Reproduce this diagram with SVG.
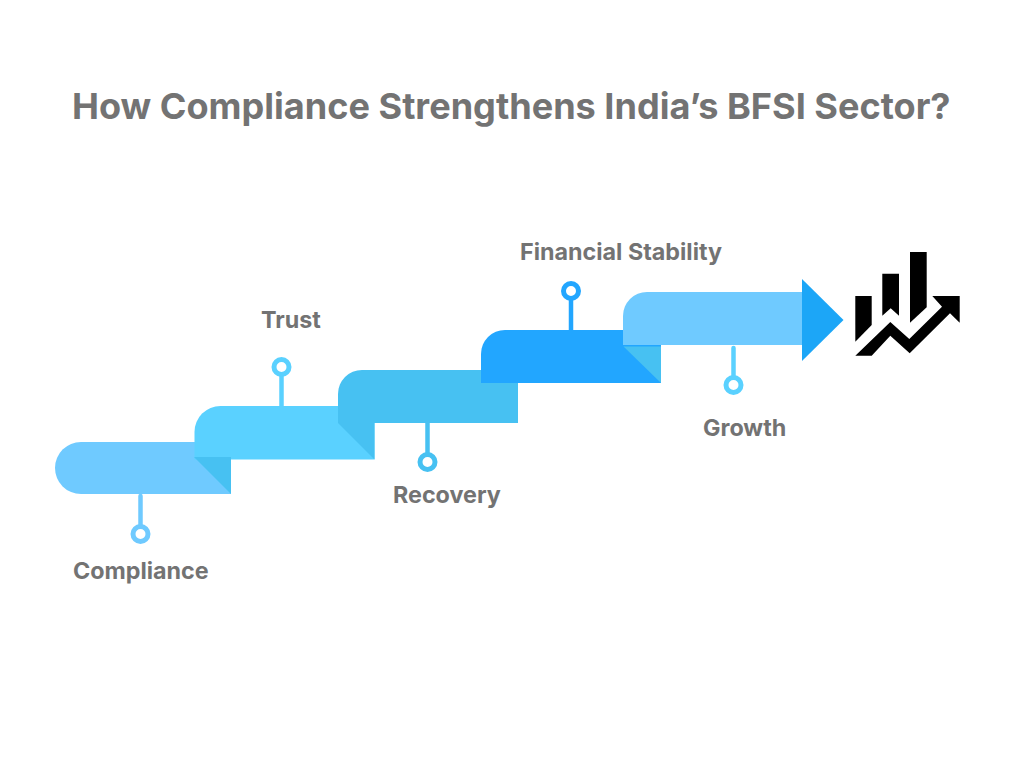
<svg xmlns="http://www.w3.org/2000/svg" width="1024" height="768" viewBox="0 0 1024 768">
<style>
text{font-family:"Inter","Liberation Sans",sans-serif;fill:#737373}
.t{font-size:36.100px;font-weight:700}
.l{font-size:23.300px;font-weight:700}
.fold{fill:#47c1f2}
.stem{stroke-width:4.500;stroke-linecap:round;fill:none}
.ring{fill:#fff;stroke-width:5}
</style>
<rect width="1024" height="768" fill="#fff"/>
<text id="title" class="t" x="72" y="119">How Compliance Strengthens India’s BFSI Sector?</text>
<g id="connectors">
<path class="stem" stroke="#6fcaff" d="M140.500 496V526"/>
<path class="stem" stroke="#5ad1ff" d="M281.500 375V406"/>
<path class="stem" stroke="#47c1f2" d="M427.500 423V454"/>
<path class="stem" stroke="#22a6ff" d="M571 299V330"/>
<path class="stem" stroke="#5ad1ff" d="M733.500 348V377"/>
</g>
<g id="step-compliance">
<path fill="#6fcaff" d="M81 442H231V494H81A26 26 0 0 1 81 442Z"/>
<circle class="ring" stroke="#6fcaff" cx="140.500" cy="534" r="7.500"/>
<text class="l" x="73" y="579">Compliance</text>
</g>
<g id="step-trust">
<path fill="#5ad1ff" d="M194.500 459.500V432A26 26 0 0 1 220.500 406H374.500V459.500Z"/>
<path class="fold" d="M194 457H231V494Z"/>
<path class="fold" d="M338 423H374.500V459.500Z"/>
<circle class="ring" stroke="#5ad1ff" cx="281.500" cy="367" r="7.500"/>
<text class="l" x="261" y="328">Trust</text>
</g>
<g id="step-recovery">
<path fill="#47c1f2" d="M338 423V394A24 24 0 0 1 362 370H518V423Z"/>
<circle class="ring" stroke="#47c1f2" cx="427.500" cy="462" r="7.500"/>
<text class="l" x="393" y="503">Recovery</text>
</g>
<g id="step-financial-stability">
<path fill="#22a6ff" d="M481 383V354A24 24 0 0 1 505 330H661V383Z"/>
<path class="fold" d="M623.500 346.500H661V383Z"/>
<circle class="ring" stroke="#22a6ff" cx="571" cy="291" r="7.500"/>
<text class="l" x="520" y="260">Financial Stability</text>
</g>
<g id="step-growth">
<path fill="#6fcaff" d="M623 345V316A24 24 0 0 1 647 292H802V345Z"/>
<path fill="#1ca6f7" d="M802 279L843.500 320L802 361Z"/>
<circle class="ring" stroke="#5ad1ff" cx="733.500" cy="385" r="7.500"/>
<text class="l" x="703" y="436">Growth</text>
</g>
<g id="icon-growth" fill="#000">
<path d="M855.300 296H871.700V325L855.300 341.700Z"/>
<path d="M882.300 273.700H899V315.700L890.700 308.300L882.300 315.700Z"/>
<path d="M910 252H926.700V307.300L910 322.700Z"/>
<path d="M855.300 355.700L890.300 322L909.300 339L942 306.700L932.300 296H959.700V322.700L950 313.300L909.700 353.300L890.300 335.700L871.700 355.700Z"/>
</g>
</svg>
